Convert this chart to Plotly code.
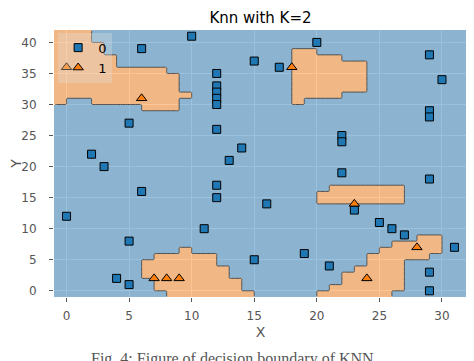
import numpy as np
import plotly.graph_objects as go

# ---- data (samples in dataset order) ----
sample_x = [0, 6, 18,
            6, 10, 12, 12, 12, 12, 12, 12, 5, 2, 3, 13, 14, 20, 15, 17, 29, 30, 29, 29,
            22, 22, 22, 12, 12, 6, 0, 11, 5, 4, 5, 23, 16, 25, 26, 27, 31, 19, 15,
            21, 29, 29,
            7, 8, 9, 23, 28, 24,
            29]
sample_y = [36, 31, 36,
            39, 41, 35, 33, 32, 31, 30, 26, 27, 22, 20, 21, 23, 40, 37, 36, 38, 34, 29, 28,
            25, 24, 19, 17, 15, 16, 12, 10, 8, 2, 1, 13, 14, 11, 10, 9, 7, 6, 5,
            4, 3, 0,
            2, 2, 2, 14, 7, 2,
            18]
sample_class = [1, 1, 1,
                0, 0, 0, 0, 0, 0, 0, 0, 0, 0, 0, 0, 0, 0, 0, 0, 0, 0, 0, 0,
                0, 0, 0, 0, 0, 0, 0, 0, 0, 0, 0, 0, 0, 0, 0, 0, 0, 0, 0,
                0, 0, 0,
                1, 1, 1, 1, 1, 1,
                0]

class_labels = ["0", "1"]
k_neighbors = 2
title_text = "Knn with K=2"
x_label = "X"
y_label = "Y"
x_ticks = [0, 5, 10, 15, 20, 25, 30]
y_ticks = [0, 5, 10, 15, 20, 25, 30, 35, 40]
caption_text = "Fig. 4: Figure of decision boundary of KNN"

# ---- KNN (k=2, ties -> nearest neighbour) decision regions from the data ----
X = np.column_stack([sample_x, sample_y]).astype(float)
lab = np.array(sample_class)

x_min, x_max = X[:, 0].min() - 1, X[:, 0].max() + 1
y_min, y_max = X[:, 1].min() - 1, X[:, 1].max() + 1
gx = np.arange(x_min, x_max, 1.0)
gy = np.arange(y_min, y_max, 1.0)
GX, GY = np.meshgrid(gx, gy)
P = np.c_[GX.ravel(), GY.ravel()]
d = ((P[:, None, :] - X[None, :, :]) ** 2).sum(-1)
nn = np.argsort(d, axis=1, kind="stable")[:, :k_neighbors]
votes = lab[nn]
c1 = votes.sum(1) * 2
pred = np.where(c1 > k_neighbors, 1, np.where(c1 < k_neighbors, 0, votes[:, 0]))
Z = pred.reshape(GY.shape)

xe = np.append(gx, gx[-1] + 1)
ye = np.append(gy, gy[-1] + 1)

# fine sampling of the cell map for the region outlines
s = 0.2
fx = np.arange(xe[0], xe[-1] - 1e-9, s) + s / 2
fy = np.arange(ye[0], ye[-1] - 1e-9, s) + s / 2
ix = np.floor(fx - xe[0]).astype(int)
iy = np.floor(fy - ye[0]).astype(int)
Zf = Z[iy][:, ix].astype(float)

is0 = lab == 0
is1 = lab == 1

fig = go.Figure()
fig.add_trace(go.Heatmap(
    x=xe, y=ye, z=Z, zmin=0, zmax=1,
    colorscale=[[0, "#1f77b4"], [0.5, "#1f77b4"], [0.5, "#ff7f0e"], [1, "#ff7f0e"]],
    opacity=0.45, showscale=False, hoverinfo="skip", zsmooth=False,
))
fig.add_trace(go.Contour(
    x=fx, y=fy, z=Zf, autocontour=False,
    contours=dict(start=0.5, end=0.5, size=1, coloring="none"),
    line=dict(color="#505050", width=1), showscale=False, hoverinfo="skip",
    showlegend=False,
))
fig.add_trace(go.Scatter(
    x=X[is0, 0], y=X[is0, 1], mode="markers", name=class_labels[0],
    marker=dict(symbol="square", size=8, color="#1f77b4",
                line=dict(color="black", width=1)),
))
fig.add_trace(go.Scatter(
    x=X[is1, 0], y=X[is1, 1], mode="markers", name=class_labels[1],
    marker=dict(symbol="triangle-up", size=9, color="#ff7f0e",
                line=dict(color="black", width=1)),
))

# the page body has an 8px default margin, so the figure is sized to fit beside it
W, H = 466, 353
axis_common = dict(
    showgrid=True, gridcolor="white", gridwidth=1, zeroline=False,
    ticks="outside", ticklen=4, tickcolor="#555555", tickwidth=1,
    tickfont=dict(family="DejaVu Sans", size=12, color="#555555"),
    showline=False, automargin=False,
)
fig.update_layout(
    width=W, height=H,
    margin=dict(l=46, r=7, t=22, b=64),
    paper_bgcolor="white", plot_bgcolor="#E5E5E5",
    font=dict(family="DejaVu Sans"),
    title=dict(text=title_text, x=0.5, xref="paper", xanchor="center",
               y=1 - 9.5 / H, yanchor="middle",
               font=dict(size=15, color="black", family="DejaVu Sans")),
    xaxis=dict(range=[xe[0], xe[-1]], tickvals=x_ticks, ticklabelstandoff=4,
               title=dict(text=x_label, font=dict(size=14, color="#555555"), standoff=4),
               **axis_common),
    yaxis=dict(range=[ye[0], ye[-1]], tickvals=y_ticks, ticklabelstandoff=10,
               title=dict(text=y_label, font=dict(size=14, color="#555555"), standoff=4),
               **axis_common),
    legend=dict(x=0.01, y=0.99, xanchor="left", yanchor="top",
                bgcolor="rgba(229,229,229,0.3)", borderwidth=0,
                font=dict(size=13, color="black"), tracegroupgap=0),
    annotations=[dict(text=caption_text, xref="paper", yref="paper",
                      x=0.431, y=(289 - 351) / 267, xanchor="center", yanchor="middle",
                      showarrow=False,
                      font=dict(family="Liberation Serif", size=16, color="#555555"))],
)
fig.write_html("out.html")
